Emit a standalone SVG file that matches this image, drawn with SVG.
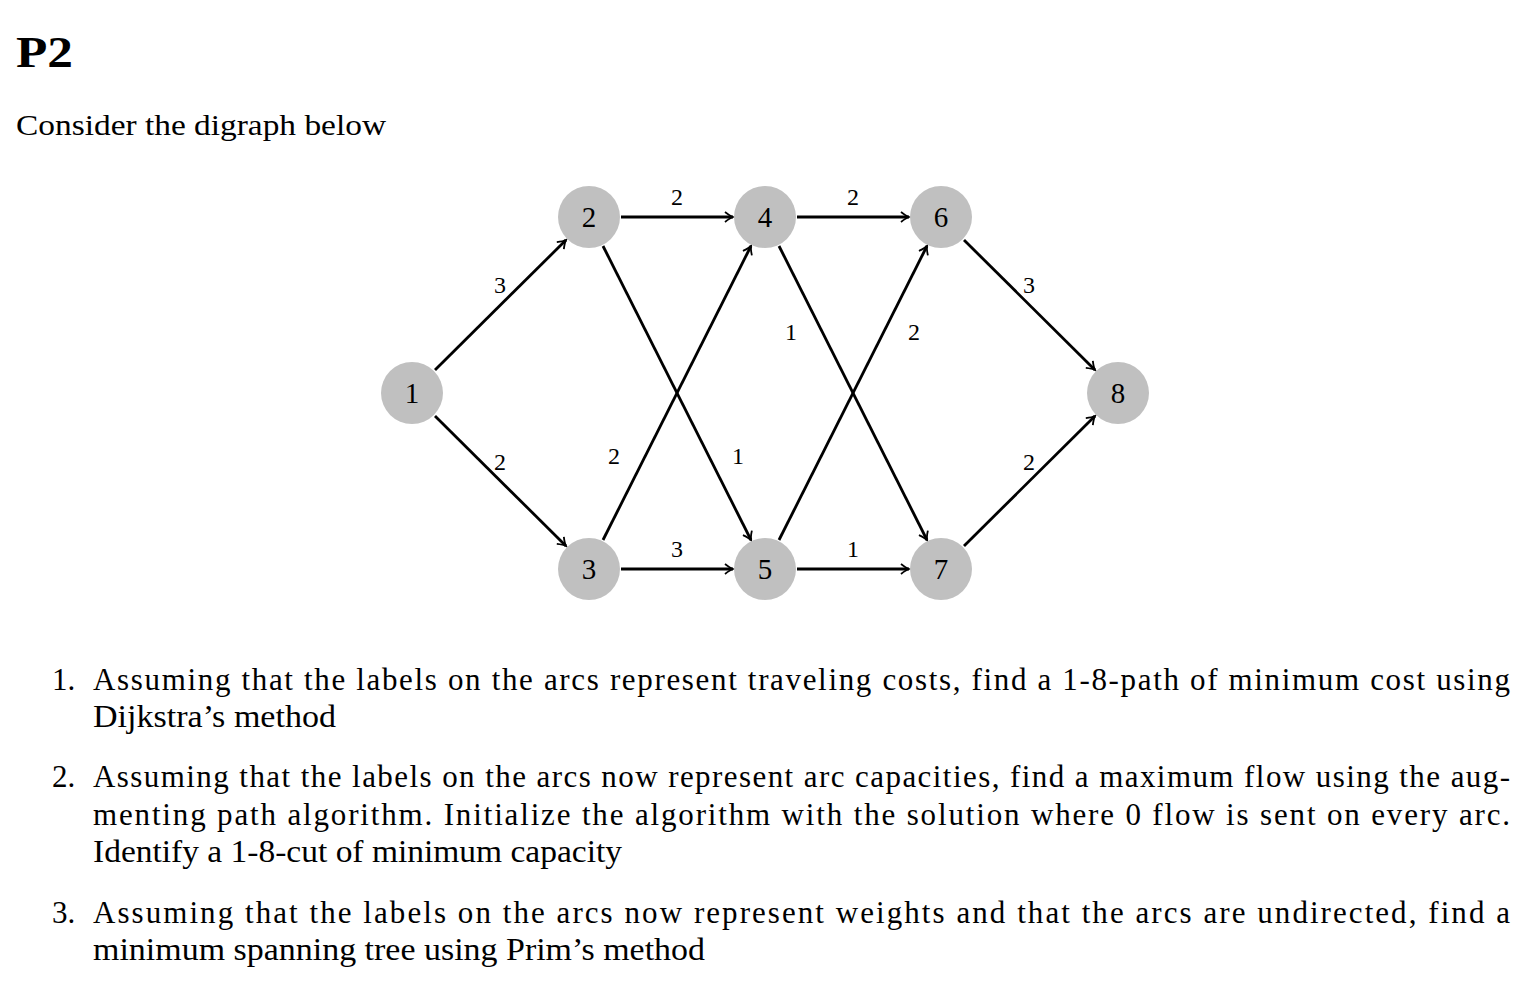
<svg xmlns="http://www.w3.org/2000/svg" width="1534" height="998" viewBox="0 0 1534 998">
<style>
text{font-family:"Liberation Serif","DejaVu Serif",serif;fill:#000}
.n circle{fill:#c0c0c0}
.n text{font-size:29px;text-anchor:middle}
.e line{stroke:#000;stroke-width:2.8;marker-end:url(#a)}
.l{font-size:24px;text-anchor:middle}
.p{font-size:31px}
</style>
<defs>
<marker id="a" viewBox="-10 -6 12 12" markerWidth="12" markerHeight="12" refX="0" refY="0" orient="auto" markerUnits="userSpaceOnUse">
<path d="M-8,-5 Q-3,-1 0,0 Q-3,1 -8,5" fill="none" stroke="#000" stroke-width="1.8"/>
</marker>
</defs>
<rect width="1534" height="998" fill="#fff"/>
<text x="16" y="67" font-size="44" font-weight="bold" textLength="57" lengthAdjust="spacingAndGlyphs">P2</text>
<text x="16" y="135" font-size="30" textLength="370" lengthAdjust="spacingAndGlyphs">Consider the digraph below</text>
<g class="e">
<line x1="435" y1="370" x2="566" y2="240"/>
<line x1="435" y1="416" x2="566" y2="546"/>
<line x1="621" y1="217" x2="733" y2="217"/>
<line x1="797" y1="217" x2="909" y2="217"/>
<line x1="621" y1="569" x2="733" y2="569"/>
<line x1="797" y1="569" x2="909" y2="569"/>
<line x1="964" y1="240" x2="1095" y2="370"/>
<line x1="964" y1="546" x2="1095" y2="416"/>
<line x1="603" y1="246" x2="751" y2="540"/>
<line x1="603" y1="540" x2="751" y2="246"/>
<line x1="779" y1="246" x2="927" y2="540"/>
<line x1="779" y1="540" x2="927" y2="246"/>
</g>
<g>
<text class="l" x="677" y="205">2</text>
<text class="l" x="853" y="205">2</text>
<text class="l" x="500" y="293">3</text>
<text class="l" x="500" y="470">2</text>
<text class="l" x="1029" y="293">3</text>
<text class="l" x="1029" y="470">2</text>
<text class="l" x="791" y="340">1</text>
<text class="l" x="914" y="340">2</text>
<text class="l" x="614" y="464">2</text>
<text class="l" x="738" y="464">1</text>
<text class="l" x="677" y="557">3</text>
<text class="l" x="853" y="557">1</text>
</g>
<g id="n1" class="n"><circle cx="412" cy="393" r="31"/><text x="412" y="403">1</text></g>
<g id="n2" class="n"><circle cx="589" cy="217" r="31"/><text x="589" y="227">2</text></g>
<g id="n3" class="n"><circle cx="589" cy="569" r="31"/><text x="589" y="579">3</text></g>
<g id="n4" class="n"><circle cx="765" cy="217" r="31"/><text x="765" y="227">4</text></g>
<g id="n5" class="n"><circle cx="765" cy="569" r="31"/><text x="765" y="579">5</text></g>
<g id="n6" class="n"><circle cx="941" cy="217" r="31"/><text x="941" y="227">6</text></g>
<g id="n7" class="n"><circle cx="941" cy="569" r="31"/><text x="941" y="579">7</text></g>
<g id="n8" class="n"><circle cx="1118" cy="393" r="31"/><text x="1118" y="403">8</text></g>
<g class="p">
<text x="52" y="690">1.</text>
<text x="93" y="690" textLength="1417" lengthAdjust="spacing">Assuming that the labels on the arcs represent traveling costs, find a 1-8-path of minimum cost using</text>
<text x="93" y="727" textLength="243" lengthAdjust="spacingAndGlyphs">Dijkstra’s method</text>
<text x="52" y="787">2.</text>
<text x="93" y="787" textLength="1417" lengthAdjust="spacing">Assuming that the labels on the arcs now represent arc capacities, find a maximum flow using the aug-</text>
<text x="93" y="825" textLength="1417" lengthAdjust="spacing">menting path algorithm.  Initialize the algorithm with the solution where 0 flow is sent on every arc.</text>
<text x="93" y="862" textLength="529" lengthAdjust="spacingAndGlyphs">Identify a 1-8-cut of minimum capacity</text>
<text x="52" y="923">3.</text>
<text x="93" y="923" textLength="1417" lengthAdjust="spacing">Assuming that the labels on the arcs now represent weights and that the arcs are undirected, find a</text>
<text x="93" y="960" textLength="612" lengthAdjust="spacingAndGlyphs">minimum spanning tree using Prim’s method</text>
</g>
</svg>
